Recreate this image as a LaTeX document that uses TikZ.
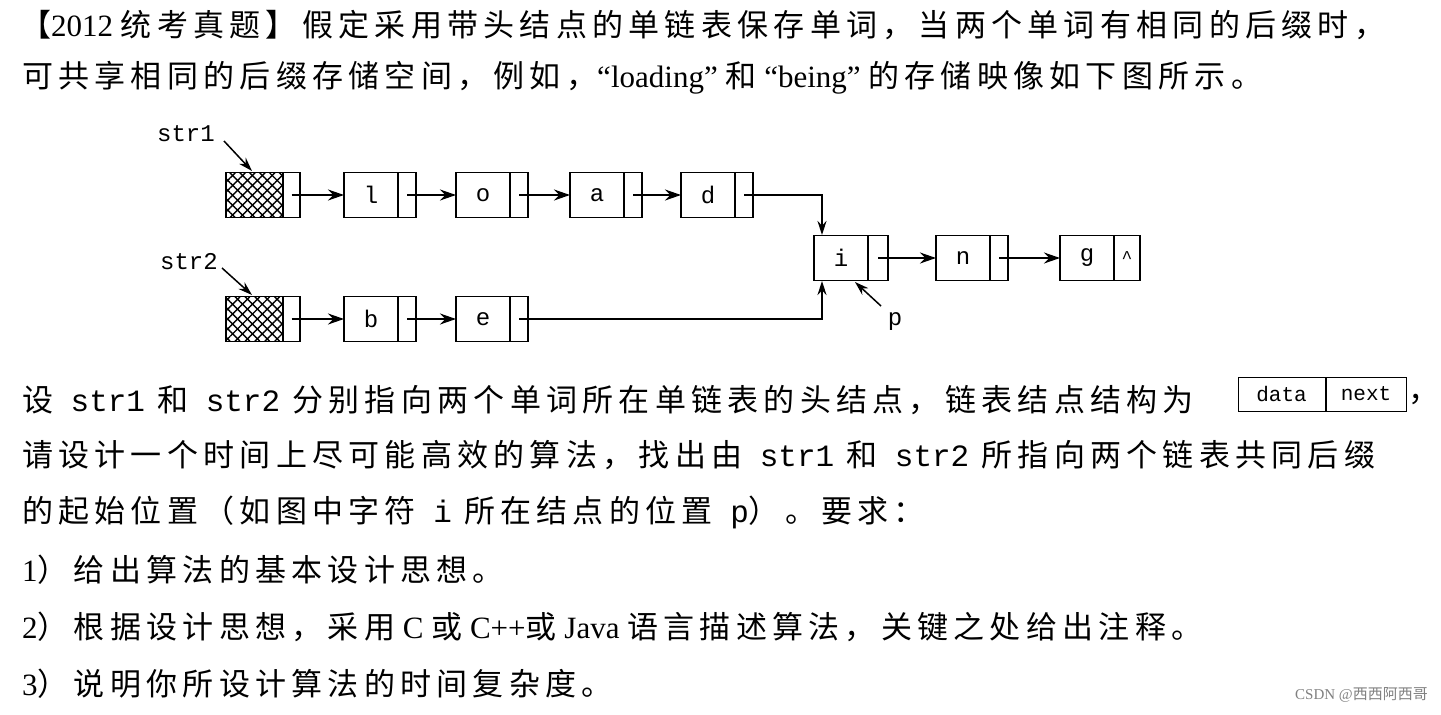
\documentclass[tikz,border=0pt]{standalone}
\usepackage{fontspec}
\setmainfont{Liberation Serif}
\setmonofont{Liberation Mono}
\newfontfamily\cjk[LetterSpace=17]{Noto Sans CJK SC}
\usetikzlibrary{patterns.meta,arrows.meta}
\newcommand{\zh}[1]{{\cjk #1}}
\begin{document}
\begin{tikzpicture}[x=1pt,y=-1pt,
  dbox/.style={draw,line width=1.4pt,minimum height=45pt,inner sep=0pt,outer sep=0pt,anchor=west,font=\ttfamily\fontsize{24}{24}\selectfont},
  link/.style={line width=1.7pt,-{Stealth[length=16pt,width=11pt]}},
  ptr/.style={line width=1.5pt,-{Stealth[length=14pt,width=9pt]}},
  txt/.style={anchor=west,inner sep=0pt,font=\fontsize{31}{31}\selectfont}]
\useasboundingbox (0,0) rectangle (1441,715);
\fill[white] (0,0) rectangle (1441,715);
% row 1
\node[dbox,minimum width=57pt] (h1) at (226,195) {};
\fill[pattern={Lines[angle=45,distance=7pt,line width=1.4pt]}] (h1.south west) rectangle (h1.north east);
\fill[pattern={Lines[angle=-45,distance=7pt,line width=1.4pt]}] (h1.south west) rectangle (h1.north east);
\node[dbox,minimum width=17pt] (h1n) at (h1.east) {};
\node[dbox,minimum width=54pt] (l) at (344,195) {l};
\node[dbox,minimum width=18pt] (ln) at (l.east) {};
\node[dbox,minimum width=54pt] (o) at (456,195) {o};
\node[dbox,minimum width=18pt] (on) at (o.east) {};
\node[dbox,minimum width=54pt] (a) at (570,195) {a};
\node[dbox,minimum width=18pt] (an) at (a.east) {};
\node[dbox,minimum width=54pt] (d) at (681,195) {d};
\node[dbox,minimum width=18pt] (dn) at (d.east) {};
% row 2
\node[dbox,minimum width=57pt] (h2) at (226,319) {};
\fill[pattern={Lines[angle=45,distance=7pt,line width=1.4pt]}] (h2.south west) rectangle (h2.north east);
\fill[pattern={Lines[angle=-45,distance=7pt,line width=1.4pt]}] (h2.south west) rectangle (h2.north east);
\node[dbox,minimum width=17pt] (h2n) at (h2.east) {};
\node[dbox,minimum width=54pt] (b) at (344,319) {b};
\node[dbox,minimum width=18pt] (bn) at (b.east) {};
\node[dbox,minimum width=54pt] (e) at (456,319) {e};
\node[dbox,minimum width=18pt] (en) at (e.east) {};
% shared
\node[dbox,minimum width=54pt] (i) at (814,258) {i};
\node[dbox,minimum width=20pt] (in) at (i.east) {};
\node[dbox,minimum width=54pt] (n) at (936,258) {n};
\node[dbox,minimum width=18pt] (nn) at (n.east) {};
\node[dbox,minimum width=54pt] (g) at (1060,258) {g};
\node[dbox,minimum width=26pt] (gn) at (g.east) {\fontsize{18}{18}\selectfont\^{}};
% links
\draw[link] (h1n.center) -- (l.west);
\draw[link] (ln.center) -- (o.west);
\draw[link] (on.center) -- (a.west);
\draw[link] (an.center) -- (d.west);
\draw[link] (h2n.center) -- (b.west);
\draw[link] (bn.center) -- (e.west);
\draw[link] (in.center) -- (n.west);
\draw[link] (nn.center) -- (g.west);
\coordinate (ti) at (822,235);
\coordinate (bi) at (822,281);
\draw[ptr] (dn.center) -| (ti);
\draw[ptr] (en.center) -| (bi);
% pointer labels
\node[font=\ttfamily\fontsize{24}{24}\selectfont,inner sep=0pt] (s1) at (186,134) {str1};
\node[font=\ttfamily\fontsize{24}{24}\selectfont,inner sep=0pt] (s2) at (189,262) {str2};
\node[font=\ttfamily\fontsize{24}{24}\selectfont,inner sep=0pt] (p) at (895,322) {p};
\coordinate (s1t) at (252,171);
\coordinate (s2t) at (252,295);
\coordinate (pt) at (855,282);
\draw[ptr] (224,141) -- (s1t);
\draw[ptr] (222,268) -- (s2t);
\draw[ptr] (881,306) -- (pt);
% text
\node[txt] (t1) at (20,25) {\zh{【}2012 \zh{统考真题】假定采用带头结点的单链表保存单词，当两个单词有相同的后缀时，}};
\node[txt] (t2) at (22,78) {\zh{可共享相同的后缀存储空间，例如，}“loading” \zh{和} “being” \zh{的存储映像如下图所示。}};
\node[txt] (t3) at (22,400) {\zh{设 }\texttt{str1}\zh{ 和 }\texttt{str2}\zh{ 分别指向两个单词所在单链表的头结点，链表结点结构为}};
\node[draw,line width=1pt,minimum width=87pt,minimum height=34pt,inner sep=0pt,font=\ttfamily\fontsize{21}{21}\selectfont] (dd) at (1281.5,394) {data};
\node[draw,line width=1pt,minimum width=80pt,minimum height=34pt,inner sep=0pt,font=\ttfamily\fontsize{21}{21}\selectfont,anchor=west] (nx) at (dd.east) {next};
\node[txt] (t3b) at (1408,400) {\zh{，}};
\node[txt] (t4) at (22,455) {\zh{请设计一个时间上尽可能高效的算法，找出由 }\texttt{str1}\zh{ 和 }\texttt{str2}\zh{ 所指向两个链表共同后缀}};
\node[txt] (t5) at (22,512) {\zh{的起始位置（如图中字符 }\texttt{i}\zh{ 所在结点的位置 }\texttt{p}\zh{）。要求：}};
\node[txt] (t6) at (22,570) {1\zh{）给出算法的基本设计思想。}};
\node[txt] (t7) at (22,627) {2\zh{）根据设计思想，采用} C \zh{或} C++\zh{或} Java \zh{语言描述算法，关键之处给出注释。}};
\node[txt] (t8) at (22,684) {3\zh{）说明你所设计算法的时间复杂度。}};
\node[anchor=east,inner sep=0pt,text=gray,font=\fontsize{15}{15}\selectfont] (w) at (1428,695) {CSDN @{\fontspec{Noto Sans CJK SC}西西阿西哥}};
\end{tikzpicture}
\end{document}
